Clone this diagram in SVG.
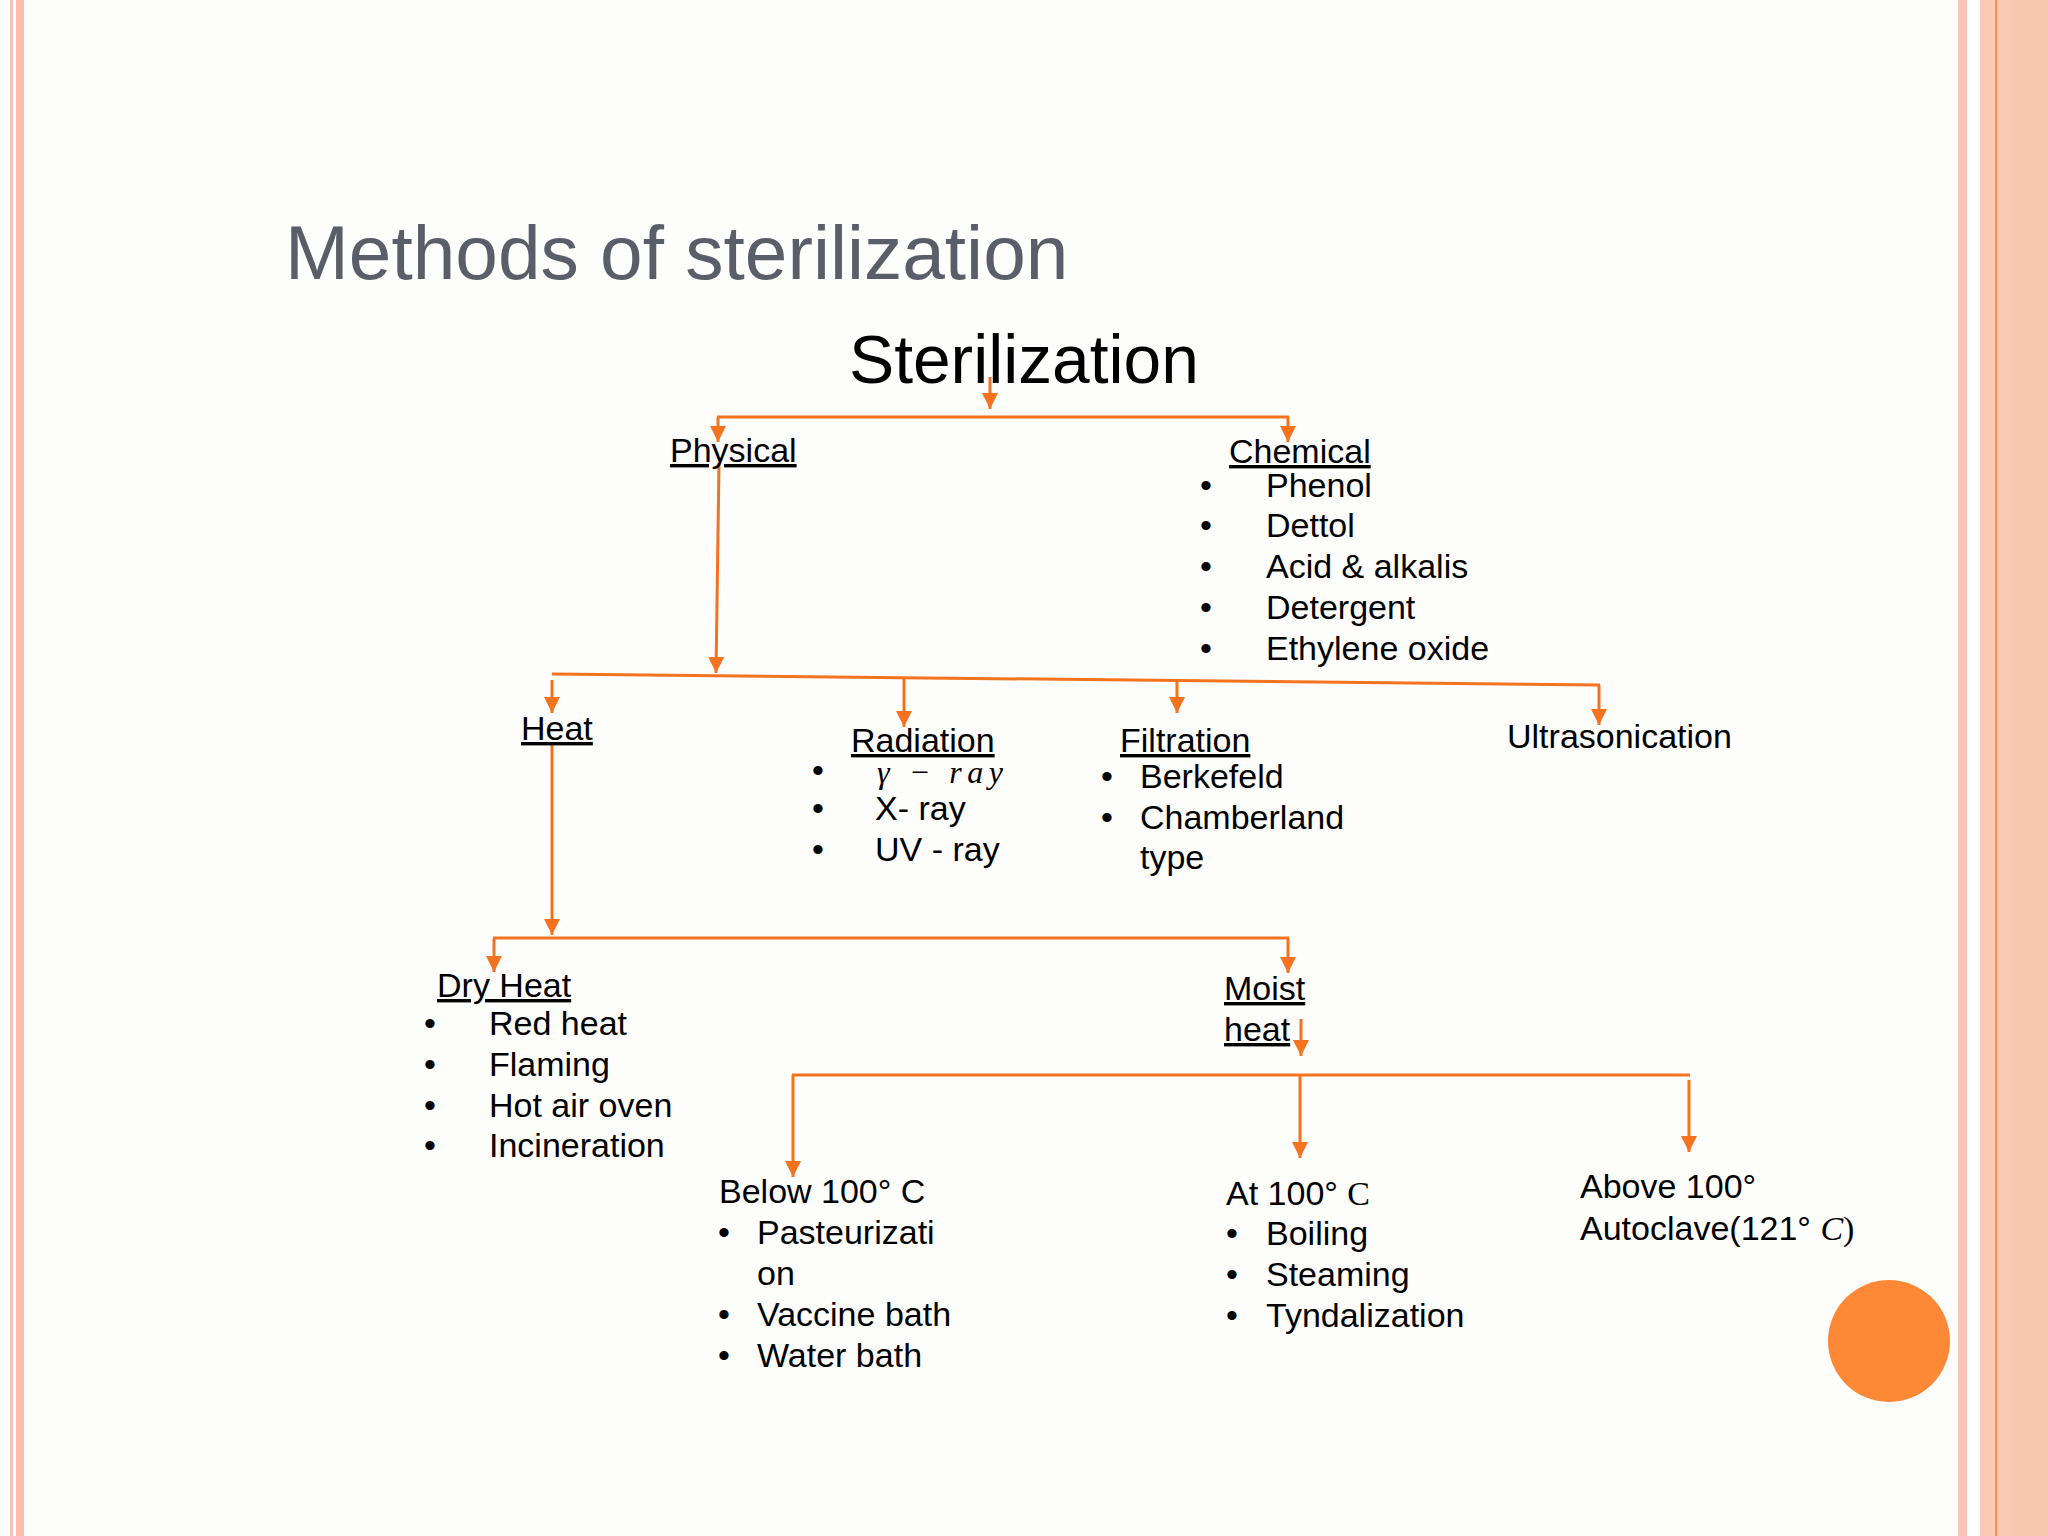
<svg xmlns="http://www.w3.org/2000/svg" width="2048" height="1536" viewBox="0 0 2048 1536">
<style>
.t{font-family:"Liberation Sans",Arial,sans-serif;font-size:34px;fill:#000}
.u{text-decoration:underline}
.m{font-family:"Liberation Serif","Times New Roman",serif}
.c{stroke:#f5731e;stroke-width:3;fill:none}
.a{marker-end:url(#ah)}
</style>
<defs>
<marker id="ah" markerUnits="userSpaceOnUse" markerWidth="16" markerHeight="16" refX="16" refY="8" orient="auto" viewBox="0 0 16 16">
<path d="M0,0 L16,8 L0,16 z" fill="#f5731e"/>
</marker>
</defs>
<rect width="2048" height="1536" fill="#fdfdfc"/>
<g id="frame">
<rect x="10" y="0" width="3" height="1536" fill="#f3c4bc"/>
<rect x="16" y="0" width="8" height="1536" fill="#fdbda7"/>
<rect x="1958" y="0" width="9" height="1536" fill="#fbc4b6"/>
<rect x="1980" y="0" width="68" height="1536" fill="#fccab3"/>
<rect x="2012" y="0" width="36" height="1536" fill="#f9c6ae"/>
<rect x="1995" y="0" width="2" height="1536" fill="#f6915a"/>
<circle cx="1889" cy="1341" r="61" fill="#fd8836"/>
</g>
<text id="title" x="285" y="279" style="font-family:'Liberation Sans',Arial,sans-serif;font-size:76.6px;fill:#595e69">Methods of sterilization</text>
<g id="connectors">
<line class="c a" x1="990" y1="377" x2="990" y2="409"/>
<line class="c" x1="717" y1="417" x2="1289" y2="417"/>
<line class="c a" x1="718" y1="417" x2="718" y2="442"/>
<line class="c a" x1="1288" y1="417" x2="1288" y2="442"/>
<line class="c a" x1="719" y1="463" x2="716" y2="673"/>
<line class="c" x1="552" y1="674" x2="1600" y2="685"/>
<line class="c a" x1="552" y1="680" x2="552" y2="713"/>
<line class="c a" x1="904" y1="678" x2="904" y2="727"/>
<line class="c a" x1="1177" y1="681" x2="1177" y2="713"/>
<line class="c a" x1="1599" y1="685" x2="1599" y2="725"/>
<line class="c a" x1="552" y1="743" x2="552" y2="935"/>
<line class="c" x1="493" y1="938" x2="1289" y2="938"/>
<line class="c a" x1="494" y1="938" x2="494" y2="972"/>
<line class="c a" x1="1288" y1="938" x2="1288" y2="973"/>
<line class="c a" x1="1301" y1="1019" x2="1301" y2="1056"/>
<line class="c" x1="792" y1="1075" x2="1690" y2="1075"/>
<line class="c a" x1="793" y1="1075" x2="793" y2="1177"/>
<line class="c a" x1="1300" y1="1075" x2="1300" y2="1158"/>
<line class="c a" x1="1689" y1="1080" x2="1689" y2="1152"/>
</g>
<g id="sterilization"><text class="t" x="849" y="383" style="font-size:67.7px">Sterilization</text></g>
<g id="physical"><text class="t u" x="670" y="462">Physical</text></g>
<g id="chemical">
<text class="t u" x="1229" y="463">Chemical</text>
<text class="t" x="1200" y="497">•</text><text class="t" x="1266" y="497">Phenol</text>
<text class="t" x="1200" y="537">•</text><text class="t" x="1266" y="537">Dettol</text>
<text class="t" x="1200" y="578">•</text><text class="t" x="1266" y="578">Acid &amp; alkalis</text>
<text class="t" x="1200" y="619">•</text><text class="t" x="1266" y="619">Detergent</text>
<text class="t" x="1200" y="660">•</text><text class="t" x="1266" y="660">Ethylene oxide</text>
</g>
<g id="heat"><text class="t u" x="521" y="740">Heat</text></g>
<g id="radiation">
<text class="t u" x="851" y="752">Radiation</text>
<text class="t" x="812" y="782">•</text><text class="t m" x="877" y="783" style="font-style:italic;font-size:32px" textLength="126">γ − ray</text>
<text class="t" x="812" y="820">•</text><text class="t" x="875" y="820">X- ray</text>
<text class="t" x="812" y="861">•</text><text class="t" x="875" y="861">UV - ray</text>
</g>
<g id="filtration">
<text class="t u" x="1120" y="752">Filtration</text>
<text class="t" x="1101" y="788">•</text><text class="t" x="1140" y="788">Berkefeld</text>
<text class="t" x="1101" y="829">•</text><text class="t" x="1140" y="829">Chamberland</text>
<text class="t" x="1140" y="869">type</text>
</g>
<g id="ultrasonication"><text class="t" x="1507" y="748">Ultrasonication</text></g>
<g id="dryheat">
<text class="t u" x="437" y="997">Dry Heat</text>
<text class="t" x="424" y="1035">•</text><text class="t" x="489" y="1035">Red heat</text>
<text class="t" x="424" y="1076">•</text><text class="t" x="489" y="1076">Flaming</text>
<text class="t" x="424" y="1117">•</text><text class="t" x="489" y="1117">Hot air oven</text>
<text class="t" x="424" y="1157">•</text><text class="t" x="489" y="1157">Incineration</text>
</g>
<g id="moistheat">
<text class="t u" x="1224" y="1000">Moist</text>
<text class="t u" x="1224" y="1041">heat</text>
</g>
<g id="below100">
<text class="t" x="719" y="1203">Below 100° C</text>
<text class="t" x="718" y="1244">•</text><text class="t" x="757" y="1244">Pasteurizati</text>
<text class="t" x="757" y="1285">on</text>
<text class="t" x="718" y="1326">•</text><text class="t" x="757" y="1326">Vaccine bath</text>
<text class="t" x="718" y="1367">•</text><text class="t" x="757" y="1367">Water bath</text>
</g>
<g id="at100">
<text class="t" x="1226" y="1205">At 100° <tspan class="m">C</tspan></text>
<text class="t" x="1226" y="1245">•</text><text class="t" x="1266" y="1245">Boiling</text>
<text class="t" x="1226" y="1286">•</text><text class="t" x="1266" y="1286">Steaming</text>
<text class="t" x="1226" y="1327">•</text><text class="t" x="1266" y="1327">Tyndalization</text>
</g>
<g id="above100">
<text class="t" x="1580" y="1198">Above 100°</text>
<text class="t" x="1580" y="1240">Autoclave(121° <tspan class="m" style="font-style:italic">C</tspan><tspan class="m">)</tspan></text>
</g>
</svg>
